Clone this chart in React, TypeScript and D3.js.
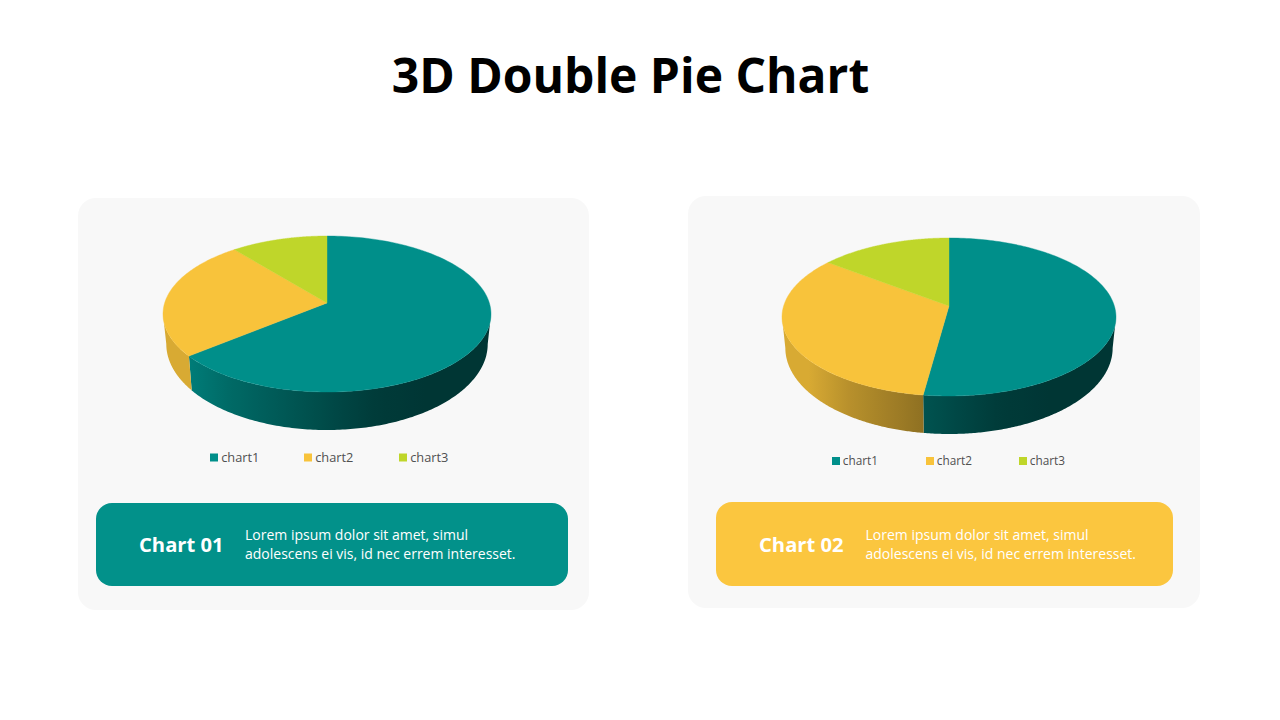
import React from "react";
import * as d3 from "d3";

const categories = ["chart1", "chart2", "chart3"];
const seriesA = [64.1, 25, 10.9];
const seriesB = [52.15, 33.25, 14.6];
const colors = ["#008f8a", "#f8c33b", "#bfd62a"];
const captionLine1 = "Lorem ipsum dolor sit amet, simul";
const captionLine2 = "adolescens ei vis, id nec errem interesset.";

type Geo = { cx: number; apexY: number; top: number; bottom: number; rx: number; wallBottom: number; wallRy: number; shrink: number };

function projector(g: Geo) {
  const up = g.apexY - g.top;
  const dn = g.bottom - g.apexY;
  const k = (dn - up) / (dn + up);
  const b = up * (1 + k);
  const a = g.rx * Math.sqrt(1 - k * k);
  const proj = (theta: number, r = 1): [number, number] => {
    const u = r * Math.sin(theta);
    const v = -r * Math.cos(theta);
    const w = 1 - k * v;
    return [g.cx + (a * u) / w, g.apexY + (b * v) / w];
  };
  return { proj, k };
}

const shade = d3
  .scaleLinear<number>()
  .domain([0, 0.08, 0.2, 0.42, 0.65, 0.8, 1])
  .range([0.87, 0.87, 0.74, 0.58, 0.41, 0.38, 0.38]);

function Pie3D({ id, values, geo }: { id: string; values: number[]; geo: Geo }) {
  const arcs = d3.pie<number>().sort(null)(values);
  const { proj, k } = projector(geo);
  const line = d3.line();
  const sample = (a0: number, a1: number) =>
    d3.range(0, 161).map((i) => a0 + ((a1 - a0) * i) / 160);
  // silhouette limits of the visible wall: where the top rim is widest
  const wallStart = Math.PI / 2 + Math.asin(k);
  const wallEnd = (3 * Math.PI) / 2 - Math.asin(k);
  const R = geo.rx * geo.shrink;
  const wallCy = geo.wallBottom - geo.wallRy;
  const lower = ([x]: [number, number]): [number, number] => {
    const dx = (x - geo.cx) * geo.shrink;
    const q = Math.min(1, Math.abs(dx) / R);
    return [geo.cx + dx, wallCy + geo.wallRy * Math.sqrt(1 - q * q)];
  };
  const x0 = geo.cx - geo.rx;
  const w = geo.rx * 2;
  return (
    <g>
      <defs>
        {arcs.map((d, i) => (
          <linearGradient key={i} id={`${id}-g${i}`} gradientUnits="userSpaceOnUse" x1={x0} x2={x0 + w} y1={0} y2={0}>
            {d3.range(0, 1.01, 0.04).map((t) => {
              const c = d3.rgb(colors[i]);
              const m = shade(t);
              return <stop key={t} offset={t} stopColor={d3.rgb(c.r * m, c.g * m, c.b * m).formatHex()} />;
            })}
          </linearGradient>
        ))}
      </defs>
      {arcs.map((d, i) => {
        const a0 = Math.max(d.startAngle, wallStart);
        const a1 = Math.min(d.endAngle, wallEnd);
        if (a1 <= a0) return null;
        const top = sample(a0, a1).map((t) => proj(t));
        const pts = [...top, ...top.slice().reverse().map(lower)];
        return <path key={i} d={line(pts) + "Z"} fill={`url(#${id}-g${i})`} />;
      })}
      {arcs.map((d, i) => {
        const pts: [number, number][] = [proj(0, 0), ...sample(d.startAngle, d.endAngle).map((t) => proj(t))];
        return <path key={i} d={line(pts) + "Z"} fill={colors[i]} stroke={colors[i]} strokeWidth={0.4} />;
      })}
    </g>
  );
}

function Legend({ xs, y, size, box, gap }: { xs: number[]; y: number; size: number; box: number; gap: number }) {
  return (
    <g>
      {categories.map((c, i) => (
        <g key={c}>
          <rect x={xs[i]} y={y - box / 2} width={box} height={box} fill={colors[i]} />
          <text x={xs[i] + box + gap} y={y + size * 0.35} fontSize={size} fontFamily="'Open Sans'" fill="#505050">
            {c}
          </text>
        </g>
      ))}
    </g>
  );
}

function Caption({ x, y, w, h, fill, title, titleX, textX }: any) {
  return (
    <g fontFamily="'Open Sans'" fill="#fff">
      <rect x={x} y={y} width={w} height={h} rx={16} fill={fill} />
      <text x={titleX} y={552} fontSize={20.2} fontWeight={700}>{title}</text>
      <text x={textX} y={540} fontSize={14}>{captionLine1}</text>
      <text x={textX} y={559} fontSize={14}>{captionLine2}</text>
    </g>
  );
}

export default function App() {
  const geoA: Geo = { cx: 327, apexY: 303, top: 236, bottom: 392, rx: 164, wallBottom: 430, wallRy: 86, shrink: 0.98 };
  const geoB: Geo = { cx: 949, apexY: 306, top: 238, bottom: 396, rx: 167, wallBottom: 434, wallRy: 86, shrink: 0.98 };
  return (
    <svg width={1280} height={720} style={{ position: "absolute", left: 0, top: 0, background: "#fff" }}>
      <text x={630.5} y={92.5} textAnchor="middle" fontFamily="'Open Sans'" fontWeight={700} fontSize={48} fill="#000">
        3D Double Pie Chart
      </text>
      <rect x={78} y={198} width={511} height={412} rx={18} fill="#f8f8f8" />
      <rect x={688} y={196} width={512} height={412} rx={18} fill="#f8f8f8" />
      <Pie3D id="a" values={seriesA} geo={geoA} />
      <Pie3D id="b" values={seriesB} geo={geoB} />
      <Legend xs={[210, 304, 399]} y={457.5} size={12.8} box={8} gap={3.2} />
      <Legend xs={[832, 926, 1019]} y={461} size={11.8} box={8} gap={2.8} />
      <Caption x={96} y={503} w={472} h={83} fill="#02918a" title="Chart 01" titleX={139} textX={245} />
      <Caption x={716} y={502} w={457} h={84} fill="#fbc63f" title="Chart 02" titleX={759} textX={865.5} />
    </svg>
  );
}
